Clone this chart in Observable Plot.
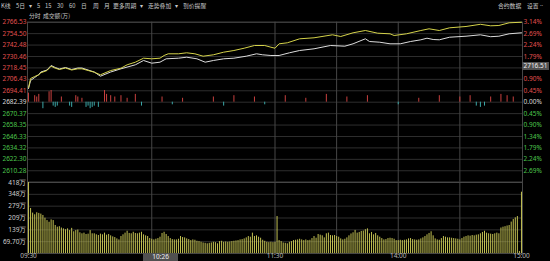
<!DOCTYPE html>
<html><head><meta charset="utf-8">
<script src="https://cdn.jsdelivr.net/npm/d3@7"></script>
<script src="https://cdn.jsdelivr.net/npm/@observablehq/plot@0.6"></script>
<style>
html,body{margin:0;padding:0;background:#000;}
#wrap{position:relative;width:550px;height:261px;background:#000;overflow:hidden;font-family:"Noto Sans CJK SC","Noto Sans",sans-serif;}
#wrap svg{position:absolute;left:0;top:0;}
.tb{position:absolute;font-size:5.8px;color:#c8c8c8;white-space:nowrap;line-height:7px;}
.box{position:absolute;font-size:6.5px;color:#eee;background:#505050;line-height:8px;height:8px;text-align:center;font-family:"Noto Sans",sans-serif;}
</style></head><body><div id="wrap"></div>
<script>
// ---------- data ----------
const prevClose = 2682.39;
const priceTicks = [2766.53, 2754.50, 2742.48, 2730.46, 2718.45, 2706.43, 2694.41, 2682.39, 2670.37, 2658.35, 2646.33, 2634.32, 2622.30, 2610.28];
const pctLabels = ["3.14%","2.69%","2.24%","1.79%","1.34%","0.90%","0.45%","0.00%","0.45%","0.90%","1.34%","1.79%","2.24%","2.69%"];
const priceBottom = 2598.25;
const volTicks = [418.2, 348.5, 278.8, 209.1, 139.4, 69.7];
const volLabels = ["418万","348万","279万","209万","139万","69.70万"];
const volMax = 418.2;
const gridTimes = ["10:30","11:30","13:30","14:00","14:30"];
const axisTimes = ["09:30","11:30","14:00","15:00"];
const cursorTime = "10:26";
const cursorPrice = 2716.51;

const yellowTimes = ["09:30","09:31","09:33","09:35","09:36","09:39","09:41","09:43","09:45","09:48","09:51","09:54","09:56","09:59","10:02","10:05","10:10","10:15","10:18","10:22","10:26","10:30","10:34","10:36","10:38","10:43","10:47","10:51","10:55","11:00","11:05","11:10","11:15","11:20","11:25","11:28","11:30","13:02","13:06","13:12","13:19","13:28","13:32","13:38","13:44","13:50","13:56","13:58","14:04","14:11","14:15","14:20","14:25","14:33","14:40","14:45","14:49","14:54","15:00"];
const yellowVals = [2697.85,2707.31,2709.42,2711.21,2713.31,2715.73,2720.25,2718.15,2716.78,2718.36,2716.25,2717.52,2717.52,2715.73,2713.94,2711.21,2715.73,2718.15,2721.72,2724.46,2728.67,2728.03,2728.67,2731.51,2733.29,2733.29,2734.34,2733.29,2730.77,2732.24,2734.98,2736.76,2739.18,2742.02,2742.02,2740.23,2739.18,2743.81,2744.86,2749.07,2750.12,2753.28,2751.49,2755.38,2757.80,2754.96,2754.33,2752.54,2754.33,2757.80,2759.59,2757.80,2760.64,2762.01,2764.32,2762.74,2763.06,2765.90,2766.50];

const whiteTimes = ["09:30","09:31","09:33","09:35","09:36","09:39","09:41","09:43","09:45","09:48","09:51","09:54","09:56","09:59","10:02","10:05","10:10","10:15","10:22","10:26","10:30","10:34","10:37","10:43","10:47","10:52","10:56","11:00","11:05","11:10","11:16","11:21","11:24","11:28","13:02","13:07","13:12","13:19","13:27","13:34","13:38","13:44","13:46","13:51","13:56","14:01","14:06","14:11","14:14","14:17","14:20","14:25","14:33","14:40","14:45","14:49","14:54","15:00"];
const whiteVals = [2696.80,2705.21,2708.37,2711.52,2714.15,2716.25,2720.99,2718.88,2717.31,2718.88,2716.78,2718.36,2718.36,2716.25,2714.15,2709.73,2714.15,2717.52,2721.72,2726.25,2723.41,2724.46,2728.03,2728.67,2729.72,2728.03,2724.46,2726.25,2728.03,2728.67,2730.77,2733.29,2732.24,2731.51,2731.51,2734.34,2736.76,2738.55,2742.02,2741.29,2743.81,2749.07,2746.23,2745.49,2743.81,2743.81,2746.23,2748.02,2749.70,2748.33,2748.02,2750.75,2751.80,2753.28,2751.28,2751.80,2754.33,2755.38];

// volume (万), one bar per minute from 09:30 to 15:00 (241 bars)
const volume = [418,265,238,228,240,236,232,224,208,194,
184,198,194,165,155,158,150,145,140,145,
135,148,128,135,138,122,116,120,112,114,
135,116,116,110,106,114,110,120,108,112,
104,98,94,86,80,100,110,120,131,118,
116,125,118,116,120,125,110,104,100,88,
84,80,84,88,96,118,125,112,100,88,
82,80,80,84,100,94,92,86,82,76,
80,78,72,70,66,62,60,57,60,62,
66,64,57,70,72,66,68,66,68,70,
72,74,76,80,82,86,92,100,96,120,
100,104,96,90,78,72,66,64,66,64,
66,218,76,70,62,60,57,66,70,76,
78,80,84,80,76,80,76,78,88,100,
90,112,108,104,92,116,120,106,104,106,
100,96,86,80,84,92,104,115,122,136,
120,124,130,132,140,145,116,124,110,118,
104,96,88,80,82,88,90,88,84,76,
76,78,76,78,80,86,88,82,80,78,
80,86,92,100,110,118,128,104,86,80,
78,88,100,96,92,92,90,88,86,84,
80,88,96,100,104,102,106,104,108,110,
116,124,131,120,116,114,112,116,120,116,
150,155,158,162,165,185,200,210,218,12,
361];

// buy/sell strength bars around the previous-close line
const strengthTimes = ["09:30","09:33","09:34","09:35","09:37","09:40","09:41","09:42","09:43","09:44","09:46","09:50","09:51","09:53","09:54","09:56","09:58","09:59","10:00","10:01","10:02","10:04","10:07","10:08","10:10","10:12","10:15","10:18","10:22","10:25","10:35","10:40","10:45","11:00","11:05","11:10","11:20","11:25","13:05","13:15","13:25","13:35","13:45","14:00","14:10","14:20","14:30","14:35","14:38","14:40","14:42","14:45","14:50","14:53","14:56"];
const strengthVals = [7,5,4,6,-5,8,9,-3,-4,-3,4,-3,-4,5,4,3,-4,-3,-5,-4,-3,-4,9,6,5,4,5,3,6,-3,4,-2,3,4,-3,5,4,-2,5,3,6,4,5,-2,3,5,4,5,-3,-4,-3,4,6,5,4];

// ---------- helpers ----------
function tIdx(s){const [h,m]=s.split(":").map(Number);const t=h*60+m;return t<=690?t-570:120+(t-780);}
const yellow = yellowTimes.map((t,k)=>({i:tIdx(t),v:yellowVals[k]}));
const white = whiteTimes.map((t,k)=>({i:tIdx(t),v:whiteVals[k]}));
const strength = strengthTimes.map((t,k)=>({i:tIdx(t),v:strengthVals[k]}));
const colUp="#e0504f", colDn="#4cc44c", colFlat="#d8d8d8";
const colorOf = d => d>prevClose+0.001?colUp:(d<prevClose-0.001?colDn:colFlat);
// right-hand percent labels hidden under the crosshair price box
const pctShown = priceTicks.map((d,k)=>({d,k})).filter(o=>Math.abs(o.d-cursorPrice)>4);

const common = {width:550,height:261,marginLeft:27,marginRight:28,
  style:{background:"transparent",fontFamily:"'Noto Sans',sans-serif",fontSize:"6.5px",overflow:"visible"}};
const xs = {domain:[-0.5,240.5],axis:null};
const gridC="#2e2e2e", vC="#464646";

const pricePlot = Plot.plot({...common,marginTop:21.7,marginBottom:261-181.7,
  x:xs, y:{domain:[priceBottom,priceTicks[0]],axis:null}, color:{type:"identity"},
  marks:[
    Plot.ruleY(priceTicks,{stroke:gridC}),
    Plot.ruleY([priceBottom],{stroke:gridC}),
    Plot.ruleX(gridTimes.map(tIdx),{stroke:vC}),
    Plot.frame({stroke:vC}),
    Plot.line(white,{x:"i",y:"v",stroke:"#dcdcdc",strokeWidth:1}),
    Plot.line(yellow,{x:"i",y:"v",stroke:"#d4d24a",strokeWidth:1}),
    Plot.text(priceTicks,{y:d=>d,text:d=>d.toFixed(2),frameAnchor:"left",textAnchor:"end",dx:-1,fill:d=>colorOf(d)}),
    Plot.text(pctShown,{y:o=>o.d,text:o=>pctLabels[o.k],frameAnchor:"right",textAnchor:"start",dx:1,fill:o=>colorOf(o.d)})
  ]});

const strengthPlot = Plot.plot({...common,marginTop:88.7,marginBottom:261-114.7,
  x:xs, y:{domain:[-10,10],axis:null}, color:{type:"identity"},
  marks:[
    Plot.ruleX(strength,{x:"i",y1:0,y2:"v",stroke:d=>d.v>0?"#c8403f":"#3aa7a7",strokeWidth:1})
  ]});

const volPlot = Plot.plot({...common,marginTop:182,marginBottom:8,
  x:xs, y:{domain:[0,volMax],axis:null},
  marks:[
    Plot.ruleY(volTicks,{stroke:gridC}),
    Plot.ruleX(gridTimes.map(tIdx),{stroke:vC}),
    Plot.frame({stroke:vC}),
    Plot.ruleX(volume,{x:(d,k)=>k,y1:0,y2:d=>d,stroke:"#c2c052",strokeWidth:1}),
    Plot.text(volTicks,{y:d=>d,text:(d,k)=>volLabels[k],frameAnchor:"left",textAnchor:"end",dx:-1,fill:"#cfcfcf"}),
    Plot.text(axisTimes,{x:d=>tIdx(d),text:d=>d,frameAnchor:"bottom",dy:4.5,fill:"#b8b8b8"})
  ]});

const wrap=document.getElementById("wrap");
wrap.append(pricePlot,strengthPlot,volPlot);

// toolbar texts
const tb=[["K线",1,2],["5日",16,2],["▾",29,2],["5",37,2],["15",45,2],["30",57,2],["60",69,2],["日",81,2],["周",93,2],["月",104,2],["更多周期",113,2],["▾",140,2],["走势叠加",148,2],["▾",175,2],["到价提醒",183,2],["合约数据",498,2],["设置",527,2],["..",540,1],["分时",29,11.5],["成交额(万)",43,11.5]];
for(const [t,l,tp] of tb){const s=document.createElement("div");s.className="tb";s.textContent=t;s.style.left=l+"px";s.style.top=tp+"px";if(t==="..")s.style.fontFamily="'Noto Sans',sans-serif";wrap.append(s);}

// crosshair labels
const py=pricePlot.scale("y").apply(cursorPrice);
const b1=document.createElement("div");b1.className="box";b1.textContent=cursorPrice.toFixed(2);
b1.style.left="522px";b1.style.width="27px";b1.style.top=(py-7)+"px";wrap.append(b1);
const cx=volPlot.scale("x").apply(tIdx(cursorTime));
const b2=document.createElement("div");b2.className="box";b2.textContent=cursorTime;
b2.style.left=cx+"px";b2.style.width="35px";b2.style.top="253px";wrap.append(b2);
</script></body></html>
